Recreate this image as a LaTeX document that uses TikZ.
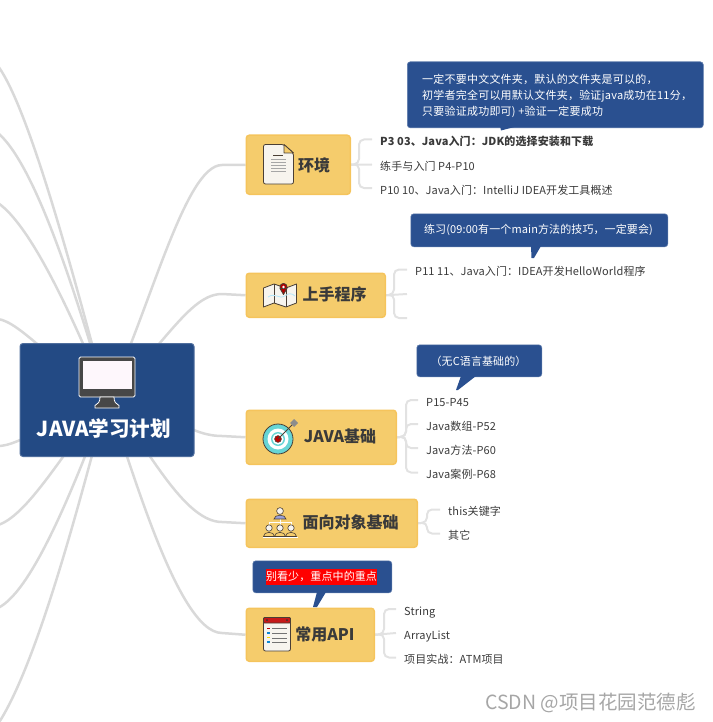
\documentclass[tikz,border=0pt]{standalone}
\usepackage{fontspec}
\setmainfont{Noto Sans CJK SC}
\newfontfamily\leaffont[LetterSpace=1]{Noto Sans CJK SC}
\newfontfamily\callfont[LetterSpace=2]{Noto Sans CJK SC}
\usetikzlibrary{backgrounds}
\definecolor{boxfill}{HTML}{F5CC6C}
\definecolor{boxedge}{HTML}{F5C45C}
\definecolor{callfill}{HTML}{2A5090}
\definecolor{rootfill}{HTML}{234A84}
\definecolor{wire}{HTML}{D9D9D9}
\definecolor{bracket}{HTML}{E2E2E2}
\definecolor{ink}{HTML}{3A3A3A}
\definecolor{iconline}{HTML}{4A3F35}
\definecolor{paper}{HTML}{F7F4EE}
\tikzset{
  topicbox/.style={draw=boxedge,line width=1.5pt,fill=boxfill,rounded corners=3pt,inner sep=0pt,anchor=north west},
  topictext/.style={text=ink,font=\fontsize{16}{18}\selectfont\bfseries,inner sep=0pt},
  leaf/.style={text=ink,font=\leaffont\fontsize{11}{14}\selectfont,inner ysep=0pt,inner xsep=8pt,anchor=west,text height=13pt,text depth=1pt},
  callbox/.style={fill=callfill,draw=callfill!75!white,line width=.6pt,rounded corners=3pt,inner sep=0pt,anchor=north west},
  calltext/.style={text=white,font=\leaffont\fontsize{11}{16}\selectfont,inner sep=0pt},
  calltail/.style={fill=callfill,draw=none},
  wireline/.style={draw=wire,line width=2.5pt},
  branch/.style={draw=bracket,line width=2pt,rounded corners=5pt},
  icon/.style={draw=iconline,line width=.8pt,line join=round}
}
\begin{document}
\begin{tikzpicture}[x=1pt,y=-1pt]
\useasboundingbox (0,0) rectangle (712,722);
% root
\node[draw=rootfill!80!white,line width=1pt,fill=rootfill,rounded corners=3pt,inner sep=0pt,minimum width=174pt,minimum height=113pt,anchor=north west] (root) at (19.5,343) {};
\node[text=white,font=\fontsize{20.6}{22}\selectfont\bfseries,inner sep=0pt] (roottext) at (104,429) {JAVA学习计划};
% topics
\node[topicbox,minimum width=104pt,minimum height=59pt] (env) at (245.5,134.5) {};
\node[topicbox,minimum width=139pt,minimum height=44pt] (shou) at (245.5,272.5) {};
\node[topicbox,minimum width=150pt,minimum height=54pt] (jc) at (245.5,409.5) {};
\node[topicbox,minimum width=171pt,minimum height=48pt] (oo) at (245.5,498.5) {};
\node[topicbox,minimum width=128pt,minimum height=53pt] (api) at (245.5,607.5) {};
\node[topictext] (envt) at (314,165) {环境};
\node[topictext] (shout) at (334.5,294) {上手程序};
\node[topictext] (jct) at (340,436) {JAVA基础};
\node[topictext] (oot) at (350.5,522) {面向对象基础};
\node[topictext] (apit) at (325,634) {常用API};
% leaves
\node[leaf,font=\leaffont\fontsize{11}{14}\selectfont\bfseries] (e1) at (372,139.5) {P3 03、Java入门：JDK的选择安装和下载};
\node[leaf] (e2) at (372,164.5) {练手与入门 P4-P10};
\node[leaf] (e3) at (372,188) {P10 10、Java入门：IntelliJ IDEA开发工具概述};
\node[leaf] (s1) at (407,269.5) {P11 11、Java入门：IDEA开发HelloWorld程序};
\coordinate (s2) at (407,294);
\coordinate (s3) at (407,318);
\node[leaf] (j1) at (418,400) {P15-P45};
\node[leaf] (j2) at (418,424) {Java数组-P52};
\node[leaf] (j3) at (418,448) {Java方法-P60};
\node[leaf] (j4) at (418,472.5) {Java案例-P68};
\node[leaf] (o1) at (440,509.5) {this关键字};
\node[leaf] (o2) at (440,533.5) {其它};
\node[leaf] (a1) at (396,609) {String};
\node[leaf] (a2) at (396,633) {ArrayList};
\node[leaf] (a3) at (396,657.5) {项目实战：ATM项目};
% free ends of the wires leaving the picture
\coordinate (l1) at (-2,66);
\coordinate (l2) at (-2,133);
\coordinate (l3) at (-2,203);
\coordinate (l4) at (-2,319);
\coordinate (l5) at (-2,446);
\coordinate (l6) at (-2,525);
\coordinate (l7) at (-2,608);
\coordinate (l8) at (-2,724);
\begin{scope}[on background layer]
  \draw[wireline] (root.center) .. controls (75,280) and (30,110) .. (l1);
  \draw[wireline] (root.center) .. controls (75,290) and (35,165) .. (l2);
  \draw[wireline] (root.center) .. controls (70,310) and (30,225) .. (l3);
  \draw[wireline] (root.center) .. controls (55,365) and (20,322) .. (l4);
  \draw[wireline] (root.center) .. controls (50,420) and (20,446) .. (l5);
  \draw[wireline] (root.center) .. controls (70,440) and (30,515) .. (l6);
  \draw[wireline] (root.center) .. controls (80,470) and (35,590) .. (l7);
  \draw[wireline] (root.center) .. controls (85,480) and (40,660) .. (l8);
  \draw[wireline] (root.center) .. controls (150,310) and (185,165) .. (222,165) -- (env.west);
  \draw[wireline] (root.center) .. controls (165,345) and (190,294) .. (222,294) -- (shou.west);
  \draw[wireline] (root.center) .. controls (155,395) and (180,436) .. (222,436) -- (jc.west);
  \draw[wireline] (root.center) .. controls (140,430) and (180,522) .. (222,522) -- (oo.west);
  \draw[wireline] (root.center) .. controls (125,440) and (175,633) .. (222,633) -- (api.west);
  % brackets
  \draw[branch] (env.east) -- (359,164) |- (e1.west);
  \draw[branch] (env.east) -- (e2.west);
  \draw[branch] (env.east) -- (359,164) |- (e3.west);
  \draw[branch] (shou.east) -- (394,294.5) |- (s1.west);
  \draw[branch] (shou.east) -- (s2);
  \draw[branch] (shou.east) -- (394,294.5) |- (s3);
  \draw[branch] (jc.east) -- (406,436.5) |- (j1.west);
  \draw[branch] (jc.east) -- (406,436.5) |- (j2.west);
  \draw[branch] (jc.east) -- (406,436.5) |- (j3.west);
  \draw[branch] (jc.east) -- (406,436.5) |- (j4.west);
  \draw[branch] (oo.east) -- (427,522.5) |- (o1.west);
  \draw[branch] (oo.east) -- (427,522.5) |- (o2.west);
  \draw[branch] (api.east) -- (384,634) |- (a1.west);
  \draw[branch] (api.east) -- (a2.west);
  \draw[branch] (api.east) -- (384,634) |- (a3.west);
\end{scope}
% callouts
\node[callbox,minimum width=296pt,minimum height=66pt] (c1) at (407,61.5) {};
\fill[calltail] (500,126) -- (518,126) -- (501,130.5) -- cycle;
\node[calltext,font=\callfont\fontsize{11}{16}\selectfont,anchor=north west,align=left] (c1t) at (422,73.5) {一定不要中文文件夹，默认的文件夹是可以的，\\初学者完全可以用默认文件夹，验证java成功在11分，\\只要验证成功即可) +验证一定要成功};
\node[callbox,minimum width=257pt,minimum height=33pt] (c2) at (410.5,213.5) {};
\fill[calltail] (531,246) -- (541,246) -- (534,258) -- (531.5,258) -- cycle;
\node[calltext] (c2t) at (538.5,230) {练习(09:00有一个main方法的技巧，一定要会)};
\node[callbox,minimum width=125pt,minimum height=32pt] (c3) at (416.5,344.5) {};
\fill[calltail] (461,376) -- (476,376) -- (458,390) -- (456,390) -- cycle;
\node[calltext] (c3t) at (478.5,361) {（无C语言基础的）};
\node[callbox,minimum width=139pt,minimum height=32pt] (c4) at (252.5,560.5) {};
\fill[calltail] (317,592) -- (326,592) -- (317,607) -- (313,607) -- cycle;
\node[calltext,fill=red,inner xsep=0pt,minimum height=16pt,minimum width=111pt] (c4t) at (321.5,576.5) {别看少，重点中的重点};
% watermark
\node[text=black!35,font=\fontsize{19.5}{22}\selectfont,inner sep=0pt,anchor=east] (wm) at (696,703) {CSDN @项目花园范德彪};
% monitor icon
\draw[white,line width=.8pt,fill=black!72,rounded corners=1.5pt] (79,357) rectangle (135,397);
\fill[white!97!magenta] (82.5,360.5) rectangle (131.5,388.5);
\draw[white,line width=.8pt,fill=black!72] (100,397) -- (114,397) .. controls (114,402) and (116,404) .. (119,405.5) -- (119,408) -- (95,408) -- (95,405.5) .. controls (98,404) and (100,402) .. (100,397) -- cycle;
% document icon
\draw[icon,fill=paper,rounded corners=2pt] (263.5,144.5) -- (284,144.5) -- (293.5,153) -- (293.5,184) -- (263.5,184) -- cycle;
\draw[icon,fill=boxfill] (284,144.5) -- (284,153) -- (293.5,153) -- cycle;
\draw[iconline,line width=.9pt] (273,155) -- (283,155);
\foreach \yy in {159,162,165,168,171}{\draw[black!35,line width=.9pt] (271,\yy) -- (286,\yy);}
% map icon
\draw[icon,fill=paper] (263.5,288) -- (274,284) -- (286,288) -- (296.5,284) -- (296.5,303) -- (286,307) -- (274,303) -- (263.5,307) -- cycle;
\draw[iconline,line width=.5pt] (274,284) -- (274,303) (286,288) -- (286,307);
\draw[cyan!30,line width=.8pt] (268,297) .. controls (275,292) and (280,300) .. (285,296) .. controls (288,293) and (292,293) .. (295,296);
\draw[icon,fill=red!70!black] (283.5,287) circle (3.6);
\draw[icon,fill=red!70!black] (280,288.5) -- (283.5,294.5) -- (287,288.5) -- cycle;
\fill[white] (283.5,287) circle (1.4);
% target icon
\draw[icon,fill=teal!55!cyan!60!white] (278,439) circle (15);
\draw[draw=none,fill=white] (278,439) circle (10.5);
\draw[draw=none,fill=teal!55!cyan!60!white] (278,439) circle (7);
\draw[draw=none,fill=white] (278,439) circle (5.6);
\draw[iconline,line width=.6pt,fill=red!75!black] (278,439) circle (3.4);
\draw[iconline,line width=1pt] (278,439) -- (293,424);
\fill[black!45] (290,423) -- (294,419) -- (298,423) -- (294,427) -- cycle;
% people icon
\draw[white,line width=1pt] (280,517) -- (280,522) (269,527) -- (269,522) -- (291,522) -- (291,527) (280,522) -- (280,527);
\draw[iconline,line width=.6pt,fill=paper] (280,511) circle (3.4);
\draw[iconline,line width=.6pt,fill=cyan!25!blue!40!white] (274,519) .. controls (274,514) and (286,514) .. (286,519) -- cycle;
\foreach \xx in {269,280,291}{
  \draw[iconline,line width=.6pt,fill=paper] (\xx,528) circle (3.2);
  \draw[iconline,line width=.6pt,fill=boxfill] (\xx-5.5,536.5) .. controls (\xx-5.5,531) and (\xx+5.5,531) .. (\xx+5.5,536.5) -- cycle;
}
\draw[white,line width=.8pt] (263,537) -- (298,537);
% list icon
\draw[icon,fill=paper,rounded corners=2pt] (263.5,617.5) rectangle (290.5,651);
\draw[icon,fill=red!75!black!90!white,rounded corners=1pt] (263.5,617.5) rectangle (290.5,623);
\fill[black!80] (267,620) circle (1) (287,620) circle (1);
\fill[red!75!black] (267,627.5) rectangle (270,629);
\fill[cyan!70!blue] (267,632) rectangle (270,633.5);
\fill[yellow!80!orange] (267,636.5) rectangle (270,638);
\fill[cyan!70!blue] (267,641) rectangle (270,642.5);
\foreach \yy in {628,633,638,642}{\draw[black!55,line width=.7pt] (272,\yy) -- (287,\yy);}
\end{tikzpicture}
\end{document}
